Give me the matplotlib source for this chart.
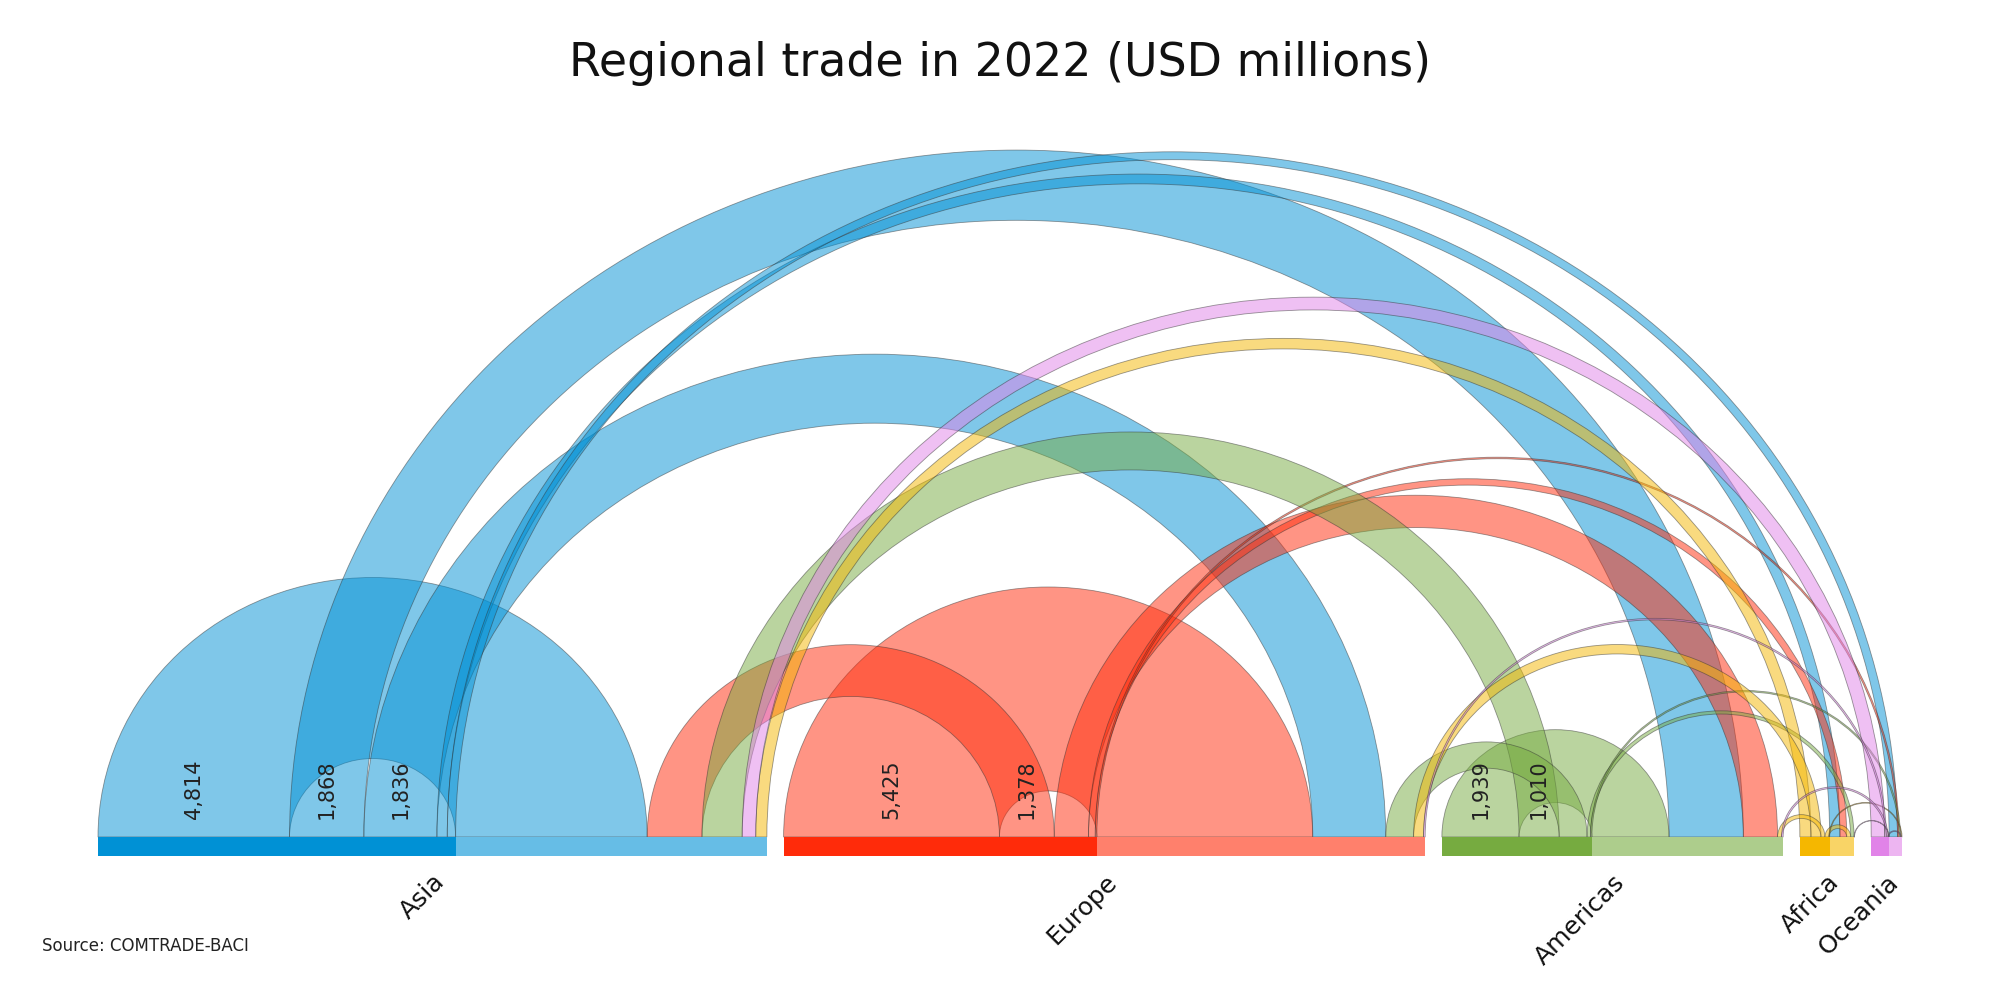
import numpy as np
import matplotlib
matplotlib.use('Agg')
import matplotlib.pyplot as plt
from matplotlib.patches import Wedge, Rectangle
from matplotlib import font_manager
from matplotlib.colors import to_rgb

# regions in drawing order
regions = ['Asia', 'Europe', 'Americas', 'Africa', 'Oceania']
colors = ['#0091d5', '#ff2b0a', '#76ab40', '#f5b700', '#e183e8']

# trade flows by exporter, columns follow `regions` (importer)
asia_exports = [4814, 1836, 1868, 260, 210]
europe_exports = [1378, 5425, 860, 170, 40]
americas_exports = [1010, 700, 1939, 85, 36]
africa_exports = [280, 250, 100, 100, 18]
oceania_exports = [340, 40, 40, 10, 20]

label_min = 1000

flows = np.array([asia_exports, europe_exports, americas_exports,
                  africa_exports, oceania_exports])
n = len(regions)

# pick a narrow font when one is installed
names = {f.name for f in font_manager.fontManager.ttflist}
narrow = 'Liberation Sans Narrow' if 'Liberation Sans Narrow' in names else 'DejaVu Sans'

# layout: export segment then import segment for each region
gap = 420
exp_tot = flows.sum(axis=1)
imp_tot = flows.sum(axis=0)
exp_start, imp_start = [], []
x = 0
for i in range(n):
    exp_start.append(x)
    x += exp_tot[i]
    imp_start.append(x)
    x += imp_tot[i]
    x += gap
total = x - gap

# slots, biggest flow first on both sides
exp_slot = {}
for i in range(n):
    pos = exp_start[i]
    for j in sorted(range(n), key=lambda j: -flows[i, j]):
        exp_slot[i, j] = pos
        pos += flows[i, j]
imp_slot = {}
for j in range(n):
    pos = imp_start[j]
    for i in sorted(range(n), key=lambda i: -flows[i, j]):
        imp_slot[i, j] = pos
        pos += flows[i, j]

# figure, axes filling the canvas, pixel mapping
W, H = 2000, 1000
fig = plt.figure(figsize=(20, 10), dpi=100)
ax = fig.add_axes([0, 0, 1, 1])
ax.axis('off')
left_px, span_px = 98, 1804
k = span_px / total
ky = 0.945 * k
base_px = 163
ax.set_xlim(-left_px / k, (W - left_px) / k)
ax.set_ylim(-base_px / ky, (H - base_px) / ky)
bar_h = 19 / ky


def light(c, a=0.6):
    r, g, b = to_rgb(c)
    return (1 - a + a * r, 1 - a + a * g, 1 - a + a * b)


# arcs
for i in range(n):
    for j in sorted(range(n), key=lambda j: -flows[i, j]):
        v = flows[i, j]
        e0 = exp_slot[i, j]
        i0 = imp_slot[i, j]
        if e0 < i0:
            lo, hi = e0, i0 + v
        else:
            lo, hi = i0, e0 + v
        c = (lo + hi) / 2
        R = (hi - lo) / 2
        w = Wedge((c, 0), R, 0, 180, width=v, facecolor=colors[i],
                  edgecolor='#333333', linewidth=0.6, alpha=0.5)
        ax.add_patch(w)

# bars
for i in range(n):
    ax.add_patch(Rectangle((exp_start[i], -bar_h), exp_tot[i], bar_h,
                           facecolor=colors[i], edgecolor='none', zorder=3))
    ax.add_patch(Rectangle((imp_start[i], -bar_h), imp_tot[i], bar_h,
                           facecolor=light(colors[i]), edgecolor='none', zorder=3))

# value labels on the big flows
for i in range(n):
    for j in range(n):
        v = flows[i, j]
        if v >= label_min:
            xc = exp_slot[i, j] + v / 2
            ax.annotate(f'{v:,}', (xc, 0), xytext=(0, 13),
                        textcoords='offset points', rotation=90,
                        ha='center', va='bottom', fontsize=15,
                        color='#222222', zorder=4)

# region names
for i in range(n):
    xc = (exp_start[i] + imp_start[i] + imp_tot[i]) / 2
    ax.annotate(regions[i], (xc, -bar_h), xytext=(0, -10),
                textcoords='offset points', rotation=45,
                rotation_mode='anchor', ha='right', va='top',
                fontsize=18, family=narrow, color='#111111')

fig.text(0.5, 0.936, 'Regional trade in 2022 (USD millions)',
         ha='center', va='center', fontsize=33, family=narrow,
         color='#111111')
fig.text(0.021, 0.054, 'Source: COMTRADE-BACI', ha='left', va='center',
         fontsize=12, family=narrow, color='#222222')

fig.savefig('out.png', dpi=100, facecolor='white')
